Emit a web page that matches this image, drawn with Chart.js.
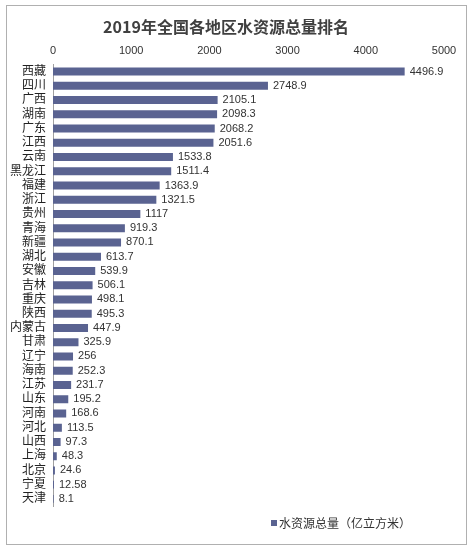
<!DOCTYPE html>
<html>
<head>
<meta charset="utf-8">
<script src="https://cdn.jsdelivr.net/npm/chart.js@4"></script>
<style>
    html, body { margin: 0; padding: 0; background: #fff; }
    #wrap { position: relative; width: 474px; height: 555px; }
    #frame { position: absolute; left: 6px; top: 5px; width: 459px; height: 538px; border: 1px solid #b0b0b0; }
    #legend { position: absolute; left: 271px; top: 514px; font: 12px "Liberation Sans", "Noto Sans CJK SC", sans-serif; color: #333; white-space: nowrap; }
    #legend i { display: inline-block; width: 6px; height: 6px; background: #5a6391; margin-right: 2px; vertical-align: 2px; }
</style>
</head>
<body>
<div id="wrap">
    <div id="frame"></div>
    <canvas id="chart" width="474" height="555"></canvas>
    <div id="legend"><i></i>水资源总量（亿立方米）</div>
</div>
<script>
// 2019年各地区水资源总量（亿立方米）
const regions = ['西藏', '四川', '广西', '湖南', '广东', '江西', '云南', '黑龙江', '福建', '浙江',
    '贵州', '青海', '新疆', '湖北', '安徽', '吉林', '重庆', '陕西', '内蒙古', '甘肃',
    '辽宁', '海南', '江苏', '山东', '河南', '河北', '山西', '上海', '北京', '宁夏', '天津'];
const waterTotals = [4496.9, 2748.9, 2105.1, 2098.3, 2068.2, 2051.6, 1533.8, 1511.4, 1363.9, 1321.5,
    1117, 919.3, 870.1, 613.7, 539.9, 506.1, 498.1, 495.3, 447.9, 325.9,
    256, 252.3, 231.7, 195.2, 168.6, 113.5, 97.3, 48.3, 24.6, 12.58, 8.1];
const xTicks = [0, 1000, 2000, 3000, 4000, 5000];

const FONT = '"Liberation Sans", "Noto Sans CJK SC", sans-serif';

// value labels right of each bar
const barLabels = {
    id: 'barLabels',
    afterDatasetsDraw(chart) {
        const ctx = chart.ctx;
        const meta = chart.getDatasetMeta(0);
        ctx.save();
        ctx.font = '11px ' + FONT;
        ctx.fillStyle = '#333';
        ctx.textAlign = 'left';
        ctx.textBaseline = 'middle';
        meta.data.forEach((bar, i) => {
            ctx.fillText(String(waterTotals[i]), bar.x + 5, bar.y);
        });
        ctx.restore();
    }
};

new Chart(document.getElementById('chart'), {
    type: 'bar',
    data: {
        labels: regions,
        datasets: [{
            label: '水资源总量（亿立方米）',
            data: waterTotals,
            backgroundColor: '#5a6391',
            barPercentage: 0.56,
            categoryPercentage: 1
        }]
    },
    options: {
        indexAxis: 'y',
        responsive: false,
        animation: false,
        layout: { padding: { left: 8, right: 30, top: 6, bottom: 49 } },
        plugins: {
            legend: { display: false },
            tooltip: { enabled: false },
            title: {
                display: true,
                text: '2019年全国各地区水资源总量排名',
                color: '#404040',
                font: { family: '"Noto Sans CJK SC", sans-serif', size: 16, weight: 'bold' },
                padding: { top: 11, bottom: 1 }
            }
        },
        scales: {
            x: {
                position: 'top',
                min: 0,
                max: 5000,
                afterBuildTicks(scale) { scale.ticks = xTicks.map(v => ({ value: v })); },
                grid: { display: false, drawTicks: false },
                border: { display: false },
                ticks: { color: '#333', font: { family: FONT, size: 11 }, padding: 7, callback: v => String(v) }
            },
            y: {
                afterFit(scale) { scale.width = 45; },
                grid: { display: false, drawTicks: false },
                border: { display: true, color: '#a0a0a0' },
                ticks: { color: '#222', font: { family: FONT, size: 12 }, padding: 7, autoSkip: false }
            }
        }
    },
    plugins: [barLabels]
});
</script>
</body>
</html>
